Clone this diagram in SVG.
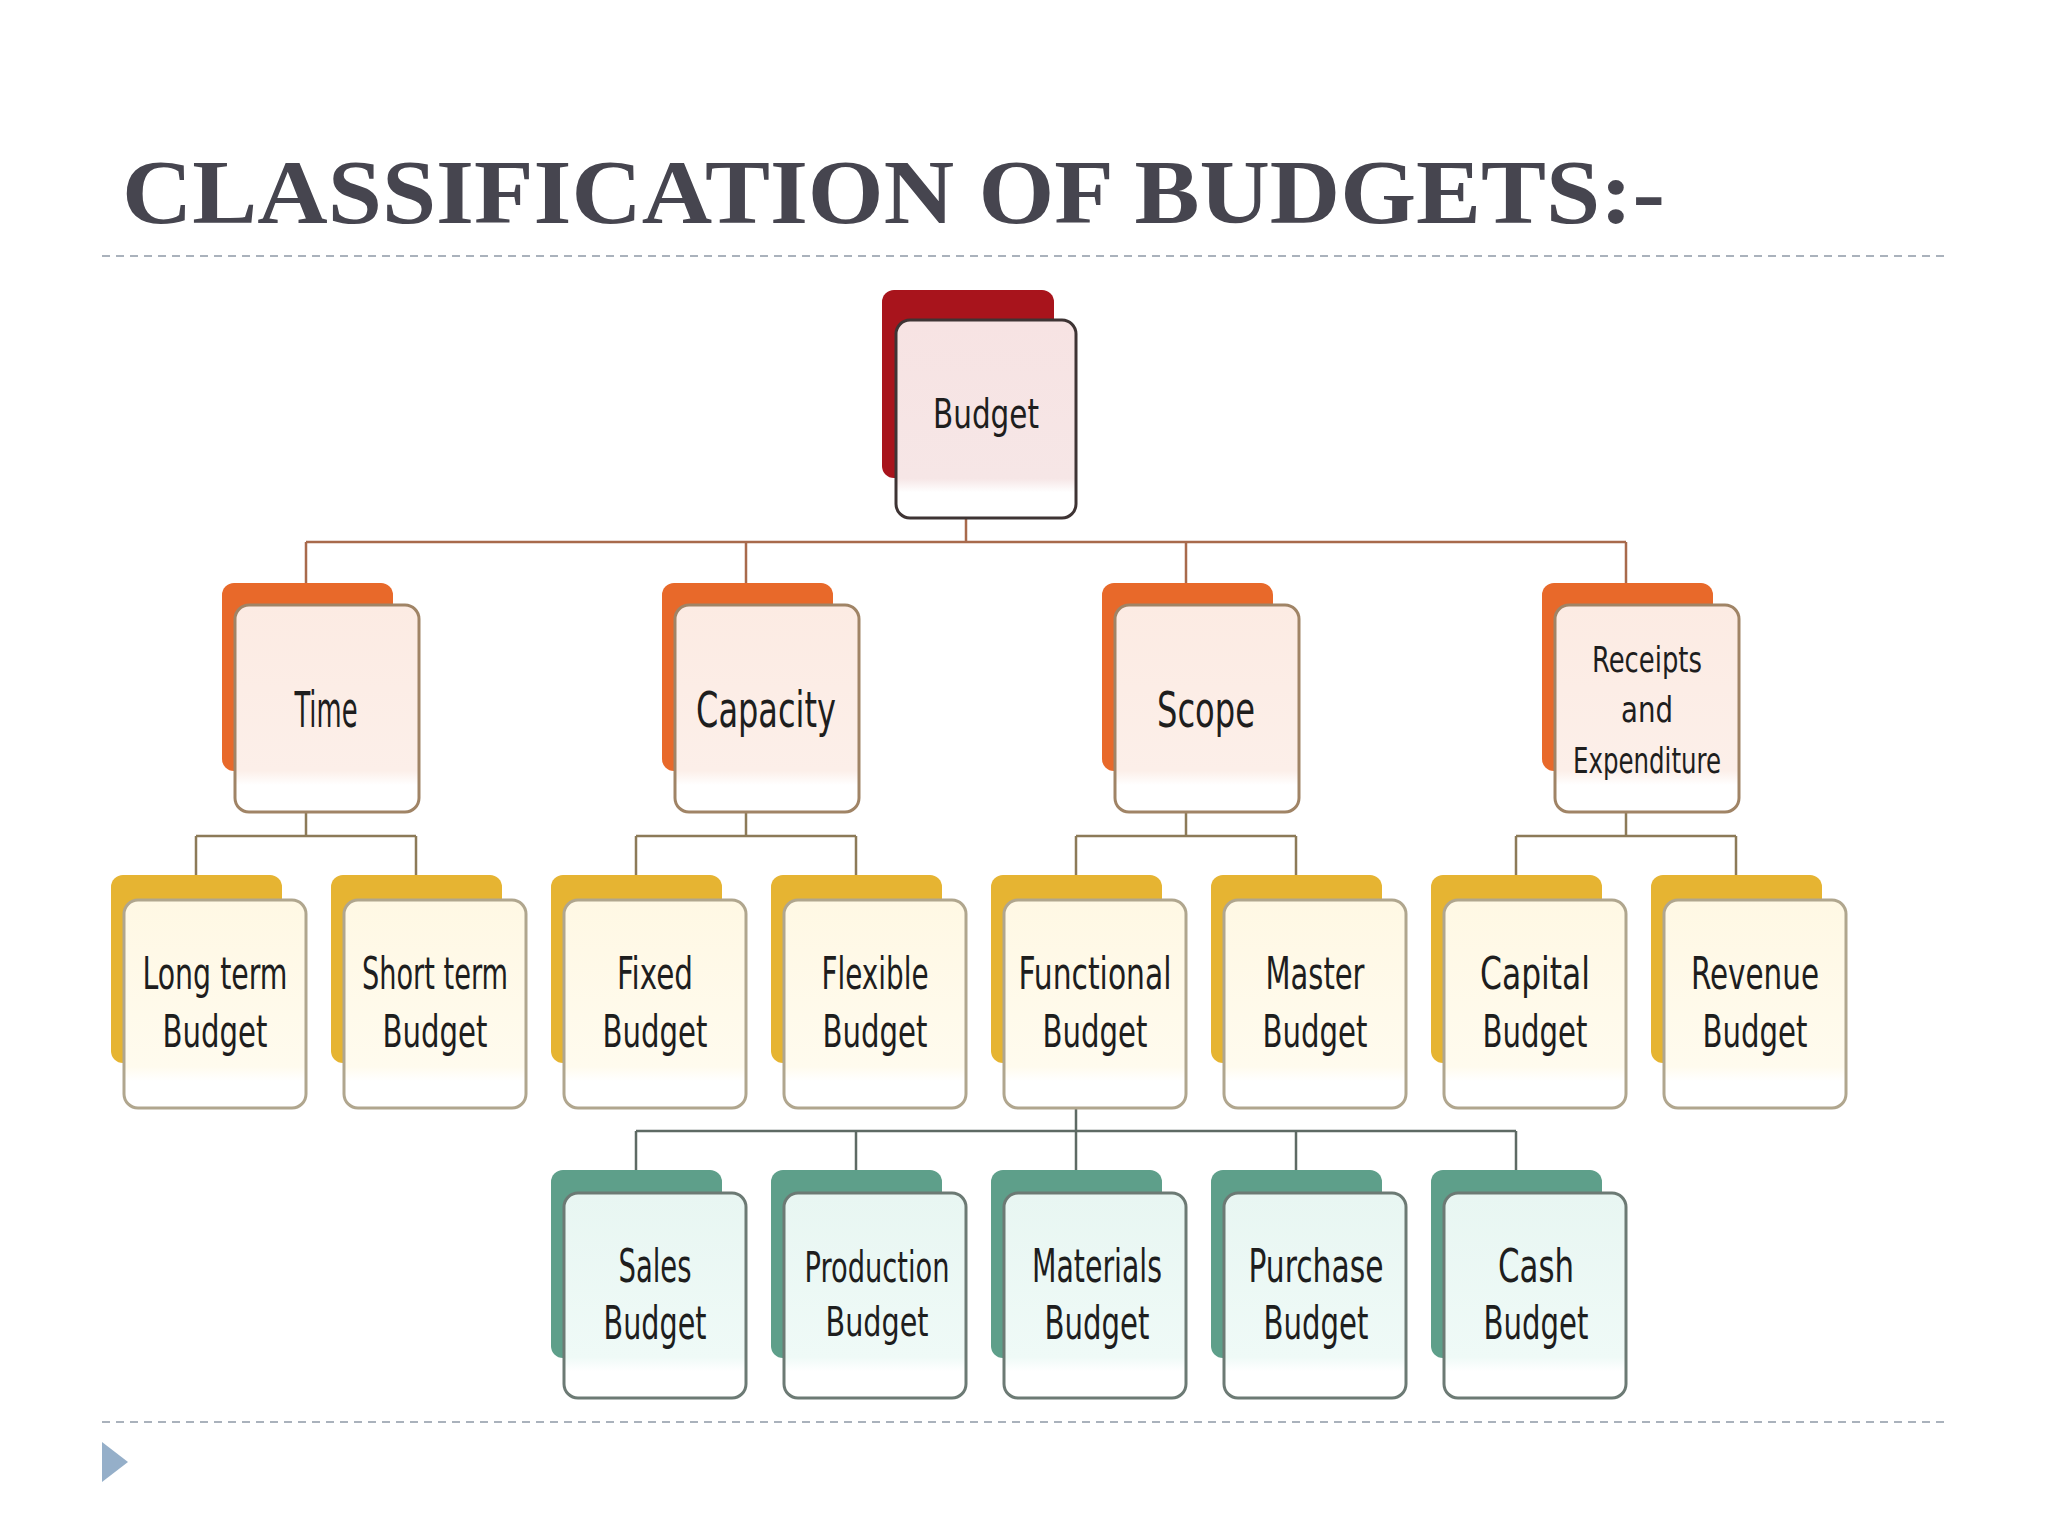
<svg xmlns="http://www.w3.org/2000/svg" width="2048" height="1536" viewBox="0 0 2048 1536">
<defs>
<linearGradient id="gRed" x1="0" y1="0" x2="0" y2="1"><stop offset="0" stop-color="#f7e3e3"/><stop offset="0.8" stop-color="#f6e6e6"/><stop offset="0.87" stop-color="#ffffff"/><stop offset="1" stop-color="#ffffff"/></linearGradient>
<linearGradient id="gOr" x1="0" y1="0" x2="0" y2="1"><stop offset="0" stop-color="#fcebe3"/><stop offset="0.8" stop-color="#fcefe9"/><stop offset="0.87" stop-color="#ffffff"/><stop offset="1" stop-color="#ffffff"/></linearGradient>
<linearGradient id="gYe" x1="0" y1="0" x2="0" y2="1"><stop offset="0" stop-color="#fff8e4"/><stop offset="0.8" stop-color="#fffbee"/><stop offset="0.87" stop-color="#ffffff"/><stop offset="1" stop-color="#ffffff"/></linearGradient>
<linearGradient id="gGr" x1="0" y1="0" x2="0" y2="1"><stop offset="0" stop-color="#e8f6f2"/><stop offset="0.8" stop-color="#effaf7"/><stop offset="0.87" stop-color="#ffffff"/><stop offset="1" stop-color="#ffffff"/></linearGradient>
</defs>
<style>
.title{font-family:"Liberation Serif","DejaVu Serif",serif;font-weight:bold;font-size:92px;fill:#46454f}
.dash{stroke:#aab2bc;stroke-width:2;stroke-dasharray:8 6;fill:none}
.t{font-family:"DejaVu Sans Condensed","DejaVu Sans",sans-serif;fill:#1e1e1e;text-anchor:middle}
.bkR{fill:#a8141c}
.bkO{fill:#e8692a}
.bkY{fill:#e6b432}
.bkG{fill:#5e9f8a}
.frR{fill:url(#gRed);stroke:#3e3434;stroke-width:3}
.frO{fill:url(#gOr);stroke:#a08466;stroke-width:3}
.frY{fill:url(#gYe);stroke:#b0a68e;stroke-width:3}
.frG{fill:url(#gGr);stroke:#6c7a74;stroke-width:3}
.c0{stroke:#a86a4c;stroke-width:2.5;fill:none}
.c1{stroke:#8c7a58;stroke-width:2.5;fill:none}
.c2{stroke:#5e6a64;stroke-width:2.5;fill:none}
</style>
<rect width="2048" height="1536" fill="#ffffff"/>
<text class="title" x="122" y="223" textLength="1543" lengthAdjust="spacingAndGlyphs">CLASSIFICATION OF BUDGETS:-</text>
<line class="dash" x1="102" y1="256" x2="1946" y2="256"/>
<line class="dash" x1="102" y1="1422" x2="1946" y2="1422"/>
<polygon points="102,1442 128,1462 102,1482" fill="#95afc9"/>

<g id="connectors">
<path class="c0" d="M966 518V542M306 542H1626M306 542V583M746 542V583M1186 542V583M1626 542V583"/>
<path class="c1" d="M306 812V836M196 836H416M196 836V875M416 836V875"/>
<path class="c1" d="M746 812V836M636 836H856M636 836V875M856 836V875"/>
<path class="c1" d="M1186 812V836M1076 836H1296M1076 836V875M1296 836V875"/>
<path class="c1" d="M1626 812V836M1516 836H1736M1516 836V875M1736 836V875"/>
<path class="c2" d="M1076 1108V1131M636 1131H1516M636 1131V1170M856 1131V1170M1076 1131V1170M1296 1131V1170M1516 1131V1170"/>
</g>

<g id="budget">
<rect class="bkR" x="882" y="290" width="172" height="188" rx="12"/>
<rect class="frR" x="896" y="320" width="180" height="198" rx="14"/>
<text class="t" x="986" y="428" font-size="41" textLength="106" lengthAdjust="spacingAndGlyphs">Budget</text>
</g>

<g id="time">
<rect class="bkO" x="222" y="583" width="171" height="188" rx="12"/>
<rect class="frO" x="235" y="605" width="184" height="207" rx="14"/>
<text class="t" x="326" y="727" font-size="50" textLength="63" lengthAdjust="spacingAndGlyphs">Time</text>
</g>
<g id="capacity">
<rect class="bkO" x="662" y="583" width="171" height="188" rx="12"/>
<rect class="frO" x="675" y="605" width="184" height="207" rx="14"/>
<text class="t" x="766" y="727" font-size="50" textLength="140" lengthAdjust="spacingAndGlyphs">Capacity</text>
</g>
<g id="scope">
<rect class="bkO" x="1102" y="583" width="171" height="188" rx="12"/>
<rect class="frO" x="1115" y="605" width="184" height="207" rx="14"/>
<text class="t" x="1206" y="727" font-size="50" textLength="98" lengthAdjust="spacingAndGlyphs">Scope</text>
</g>
<g id="receipts">
<rect class="bkO" x="1542" y="583" width="171" height="188" rx="12"/>
<rect class="frO" x="1555" y="605" width="184" height="207" rx="14"/>
<text class="t" x="1647" y="672" font-size="35" textLength="110" lengthAdjust="spacingAndGlyphs">Receipts</text>
<text class="t" x="1647" y="722" font-size="35" textLength="52" lengthAdjust="spacingAndGlyphs">and</text>
<text class="t" x="1647" y="773" font-size="35" textLength="148" lengthAdjust="spacingAndGlyphs">Expenditure</text>
</g>

<g id="longterm">
<rect class="bkY" x="111" y="875" width="171" height="188" rx="12"/>
<rect class="frY" x="124" y="900" width="182" height="208" rx="14"/>
<text class="t" x="215" y="989" font-size="44" textLength="145" lengthAdjust="spacingAndGlyphs">Long term</text>
<text class="t" x="215" y="1047" font-size="44" textLength="105" lengthAdjust="spacingAndGlyphs">Budget</text>
</g>
<g id="shortterm">
<rect class="bkY" x="331" y="875" width="171" height="188" rx="12"/>
<rect class="frY" x="344" y="900" width="182" height="208" rx="14"/>
<text class="t" x="435" y="989" font-size="44" textLength="146" lengthAdjust="spacingAndGlyphs">Short term</text>
<text class="t" x="435" y="1047" font-size="44" textLength="105" lengthAdjust="spacingAndGlyphs">Budget</text>
</g>
<g id="fixed">
<rect class="bkY" x="551" y="875" width="171" height="188" rx="12"/>
<rect class="frY" x="564" y="900" width="182" height="208" rx="14"/>
<text class="t" x="655" y="989" font-size="44" textLength="76" lengthAdjust="spacingAndGlyphs">Fixed</text>
<text class="t" x="655" y="1047" font-size="44" textLength="105" lengthAdjust="spacingAndGlyphs">Budget</text>
</g>
<g id="flexible">
<rect class="bkY" x="771" y="875" width="171" height="188" rx="12"/>
<rect class="frY" x="784" y="900" width="182" height="208" rx="14"/>
<text class="t" x="875" y="989" font-size="44" textLength="107" lengthAdjust="spacingAndGlyphs">Flexible</text>
<text class="t" x="875" y="1047" font-size="44" textLength="105" lengthAdjust="spacingAndGlyphs">Budget</text>
</g>
<g id="functional">
<rect class="bkY" x="991" y="875" width="171" height="188" rx="12"/>
<rect class="frY" x="1004" y="900" width="182" height="208" rx="14"/>
<text class="t" x="1095" y="989" font-size="44" textLength="153" lengthAdjust="spacingAndGlyphs">Functional</text>
<text class="t" x="1095" y="1047" font-size="44" textLength="105" lengthAdjust="spacingAndGlyphs">Budget</text>
</g>
<g id="master">
<rect class="bkY" x="1211" y="875" width="171" height="188" rx="12"/>
<rect class="frY" x="1224" y="900" width="182" height="208" rx="14"/>
<text class="t" x="1315" y="989" font-size="44" textLength="99" lengthAdjust="spacingAndGlyphs">Master</text>
<text class="t" x="1315" y="1047" font-size="44" textLength="105" lengthAdjust="spacingAndGlyphs">Budget</text>
</g>
<g id="capital">
<rect class="bkY" x="1431" y="875" width="171" height="188" rx="12"/>
<rect class="frY" x="1444" y="900" width="182" height="208" rx="14"/>
<text class="t" x="1535" y="989" font-size="44" textLength="110" lengthAdjust="spacingAndGlyphs">Capital</text>
<text class="t" x="1535" y="1047" font-size="44" textLength="105" lengthAdjust="spacingAndGlyphs">Budget</text>
</g>
<g id="revenue">
<rect class="bkY" x="1651" y="875" width="171" height="188" rx="12"/>
<rect class="frY" x="1664" y="900" width="182" height="208" rx="14"/>
<text class="t" x="1755" y="989" font-size="44" textLength="128" lengthAdjust="spacingAndGlyphs">Revenue</text>
<text class="t" x="1755" y="1047" font-size="44" textLength="105" lengthAdjust="spacingAndGlyphs">Budget</text>
</g>

<g id="sales">
<rect class="bkG" x="551" y="1170" width="171" height="188" rx="12"/>
<rect class="frG" x="564" y="1193" width="182" height="205" rx="14"/>
<text class="t" x="655" y="1282" font-size="46" textLength="73" lengthAdjust="spacingAndGlyphs">Sales</text>
<text class="t" x="655" y="1339" font-size="46" textLength="103" lengthAdjust="spacingAndGlyphs">Budget</text>
</g>
<g id="production">
<rect class="bkG" x="771" y="1170" width="171" height="188" rx="12"/>
<rect class="frG" x="784" y="1193" width="182" height="205" rx="14"/>
<text class="t" x="877" y="1282" font-size="43" textLength="145" lengthAdjust="spacingAndGlyphs">Production</text>
<text class="t" x="877" y="1336" font-size="41" textLength="103" lengthAdjust="spacingAndGlyphs">Budget</text>
</g>
<g id="materials">
<rect class="bkG" x="991" y="1170" width="171" height="188" rx="12"/>
<rect class="frG" x="1004" y="1193" width="182" height="205" rx="14"/>
<text class="t" x="1097" y="1282" font-size="46" textLength="130" lengthAdjust="spacingAndGlyphs">Materials</text>
<text class="t" x="1097" y="1339" font-size="46" textLength="105" lengthAdjust="spacingAndGlyphs">Budget</text>
</g>
<g id="purchase">
<rect class="bkG" x="1211" y="1170" width="171" height="188" rx="12"/>
<rect class="frG" x="1224" y="1193" width="182" height="205" rx="14"/>
<text class="t" x="1316" y="1282" font-size="46" textLength="135" lengthAdjust="spacingAndGlyphs">Purchase</text>
<text class="t" x="1316" y="1339" font-size="46" textLength="105" lengthAdjust="spacingAndGlyphs">Budget</text>
</g>
<g id="cash">
<rect class="bkG" x="1431" y="1170" width="171" height="188" rx="12"/>
<rect class="frG" x="1444" y="1193" width="182" height="205" rx="14"/>
<text class="t" x="1536" y="1282" font-size="46" textLength="76" lengthAdjust="spacingAndGlyphs">Cash</text>
<text class="t" x="1536" y="1339" font-size="46" textLength="105" lengthAdjust="spacingAndGlyphs">Budget</text>
</g>
</svg>
